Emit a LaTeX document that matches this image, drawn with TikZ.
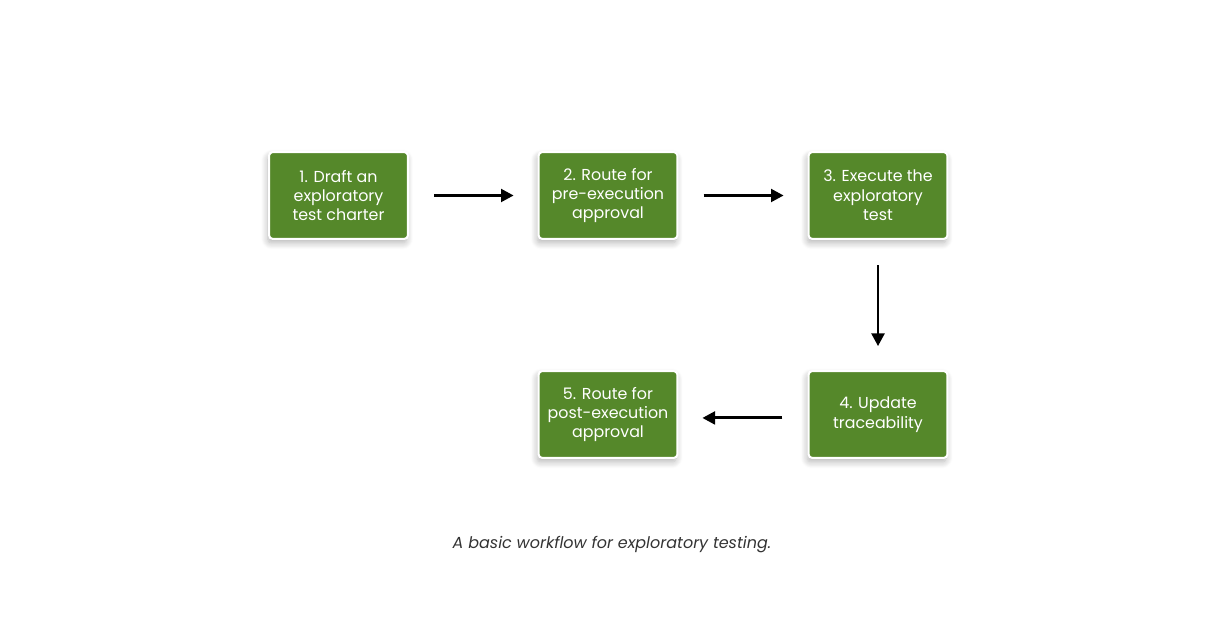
\documentclass[tikz,border=0pt]{standalone}
\usepackage{fontspec}
\setmainfont{Poppins}
\usetikzlibrary{arrows.meta,shadows.blur,positioning}
\definecolor{stepgreen}{HTML}{55882A}
\tikzset{
  stepbox/.style={draw=white, line width=1.5pt, fill=stepgreen, rounded corners=2.5pt,
    minimum width=104pt, minimum height=65pt, align=center, text=white,
    font=\fontsize{11.9pt}{14.6pt}\selectfont,
    blur shadow={shadow xshift=-1pt, shadow yshift=-3pt, shadow blur steps=8, shadow blur radius=5pt, shadow opacity=30}},
  flow/.style={line width=2.2pt, -{Triangle[length=9.5pt,width=9.5pt]}, shorten >=18pt, shorten <=19pt}
}
\begin{document}
\begin{tikzpicture}[x=0.75pt, y=0.75pt]
  % marco
  \useasboundingbox (0,0) rectangle (1205,620);

  % fila superior
  \node[stepbox] (draft) at (338.5,424.5) {1. Draft an\\exploratory\\test charter};
  \node[stepbox] (pre) at (608,424.5) {2. Route for\\pre-execution\\approval};
  \node[stepbox] (exec) at (878,424.5) {3. Execute the\\exploratory\\test};

  % fila inferior
  \node[stepbox] (trace) at (878,205.5) {4. Update\\traceability};
  \node[stepbox] (post) at (608,205.5) {5. Route for\\post-execution\\approval};

  % flechas
  \draw[flow] (draft) -- (pre);
  \draw[flow] (pre) -- (exec);
  \draw[flow] (exec) -- (trace);
  \draw[flow] ([yshift=-2.6pt]trace.west) -- ([yshift=-2.6pt]post.east);

  % pie
  \node[font=\fontsize{12pt}{14pt}\selectfont\itshape, text=black!80] (caption) at (612,75) {A basic workflow for exploratory testing.};
\end{tikzpicture}
\end{document}
